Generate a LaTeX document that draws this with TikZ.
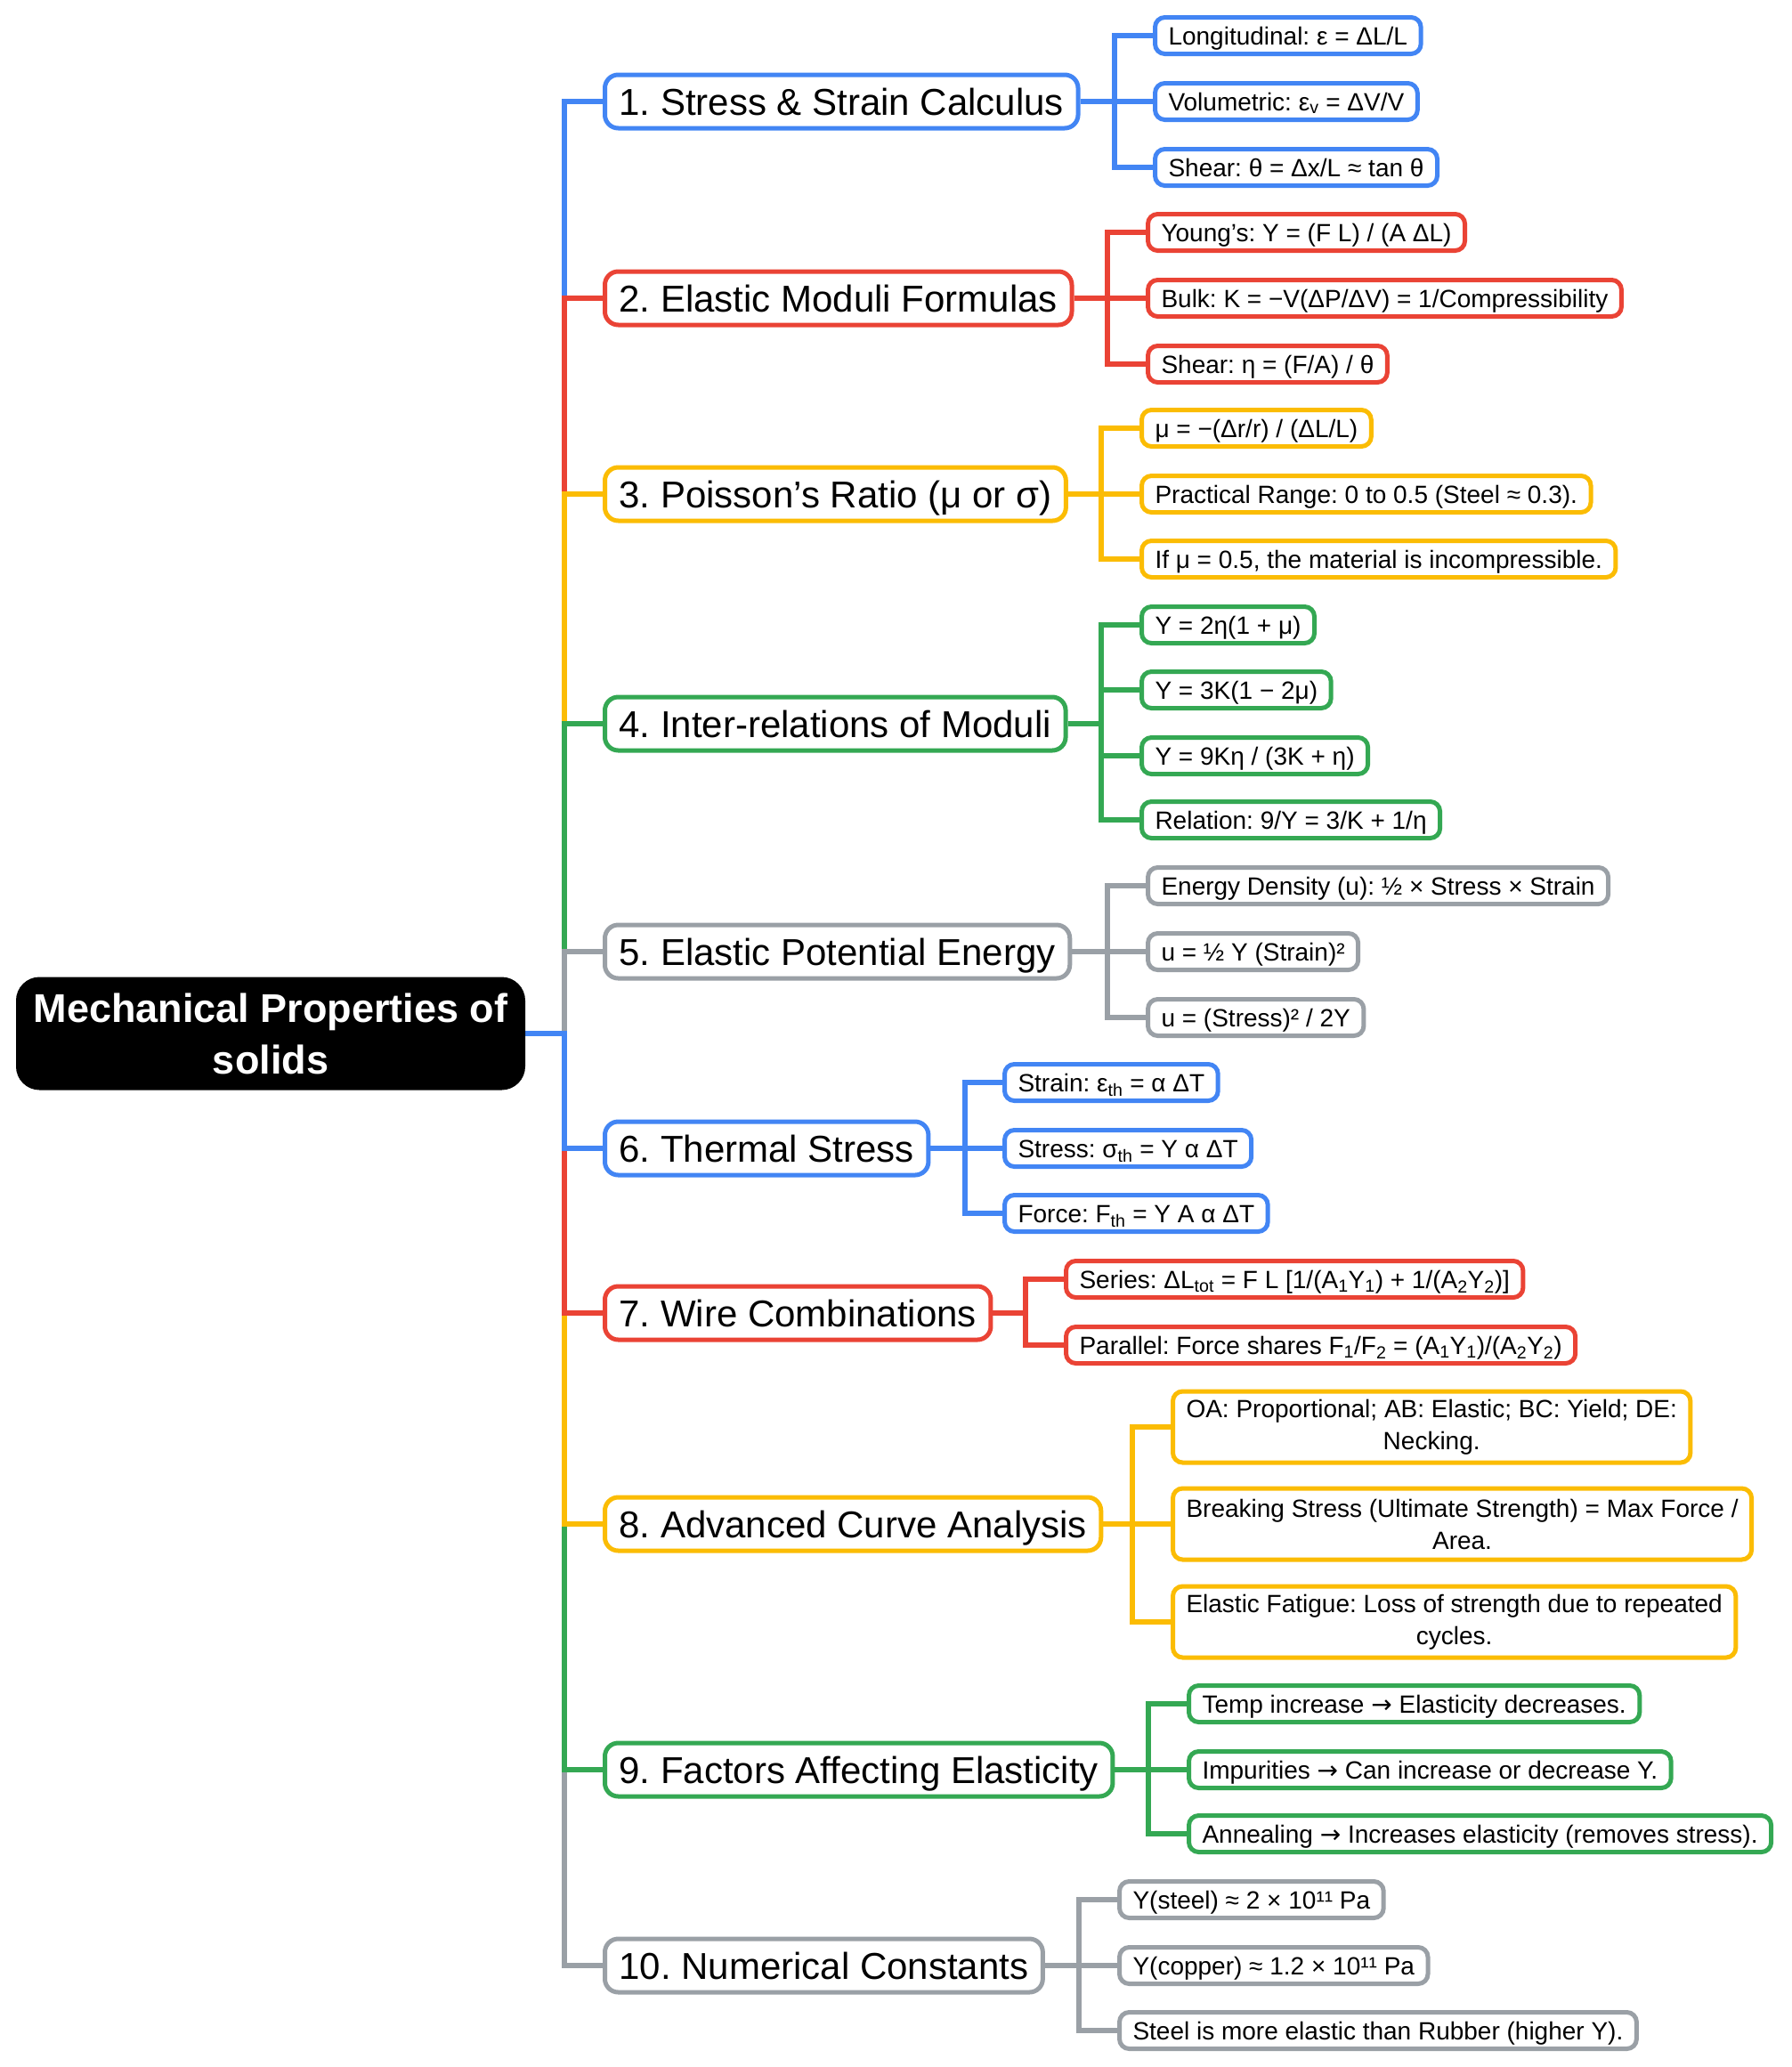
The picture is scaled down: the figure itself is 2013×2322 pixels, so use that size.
\documentclass[tikz,border=0pt]{standalone}
\usepackage{fontspec}
\setmainfont{Liberation Sans}
\newfontfamily\arrowfont{DejaVu Sans}
\newcommand{\rarr}{{\arrowfont →}}
\frenchspacing
\definecolor{cblue}{HTML}{4285F4}
\definecolor{cred}{HTML}{EA4335}
\definecolor{cyellow}{HTML}{FBBC04}
\definecolor{cgreen}{HTML}{34A853}
\definecolor{cgray}{HTML}{9AA0A6}
\pgfdeclarelayer{bg}
\pgfsetlayers{bg,main}
\tikzset{
  box/.style={draw=#1, fill=white, line width=5pt, text=black},
  branch/.style={box=#1, anchor=west, rounded corners=15pt, font=\fontsize{42}{50}\selectfont\frenchspacing,
    inner xsep=16pt, inner ysep=0pt, minimum height=60pt, text height=30pt, text depth=0pt},
  leaf/.style={box=#1, anchor=west, rounded corners=11pt, font=\fontsize{28}{36}\selectfont\frenchspacing,
    inner xsep=15pt, inner ysep=0pt, minimum height=41pt, text height=20pt, text depth=0pt},
  leaftwo/.style={box=#1, anchor=west, rounded corners=11pt, font=\fontsize{28}{36}\selectfont\frenchspacing,
    align=center, inner xsep=15pt, inner ysep=0pt, minimum height=80pt},
  link/.style={line width=6pt, draw=#1},
}
\begin{document}
\begin{tikzpicture}[x=1pt, y=-1pt]
\useasboundingbox (0,0) rectangle (2013,2322);

% root
\node[draw=black, fill=black, line width=5pt, rounded corners=24pt, text=white,
  font=\bfseries\fontsize{45}{58}\selectfont, align=center, inner sep=0pt,
  minimum width=567pt, minimum height=122pt] (root) at (304,1161) {Mechanical Properties of\\solids};

% branches
\node[branch=cblue]   (b1)  at (677,114)  {1. Stress \& Strain Calculus};
\node[branch=cred]    (b2)  at (677,335)  {2. Elastic Moduli Formulas};
\node[branch=cyellow] (b3)  at (677,555)  {3. Poisson’s Ratio (μ or σ)};
\node[branch=cgreen]  (b4)  at (677,813)  {4. Inter-relations of Moduli};
\node[branch=cgray]   (b5)  at (677,1069) {5. Elastic Potential Energy};
\node[branch=cblue]   (b6)  at (677,1290) {6. Thermal Stress};
\node[branch=cred]    (b7)  at (677,1475) {7. Wire Combinations};
\node[branch=cyellow] (b8)  at (677,1712) {8. Advanced Curve Analysis};
\node[branch=cgreen]  (b9)  at (677,1988) {9. Factors Affecting Elasticity};
\node[branch=cgray]   (b10) at (677,2208) {10. Numerical Constants};

% leaves 1
\node[leaf=cblue] (l1a) at (1295,40)  {Longitudinal: ε = ΔL/L};
\node[leaf=cblue] (l1b) at (1295,114) {Volumetric: ε\textsubscript{v} = ΔV/V};
\node[leaf=cblue] (l1c) at (1295,188) {Shear: θ = Δx/L ≈ tan θ};
% leaves 2
\node[leaf=cred] (l2a) at (1287,261) {Young’s: Y = (F L) / (A ΔL)};
\node[leaf=cred] (l2b) at (1287,335) {Bulk: K = −V(ΔP/ΔV) = 1/Compressibility};
\node[leaf=cred] (l2c) at (1287,409) {Shear: η = (F/A) / θ};
% leaves 3
\node[leaf=cyellow] (l3a) at (1280,481) {μ = −(Δr/r) / (ΔL/L)};
\node[leaf=cyellow] (l3b) at (1280,555) {Practical Range: 0 to 0.5 (Steel ≈ 0.3).};
\node[leaf=cyellow] (l3c) at (1280,628) {If μ = 0.5, the material is incompressible.};
% leaves 4
\node[leaf=cgreen] (l4a) at (1280,702) {Y = 2η(1 + μ)};
\node[leaf=cgreen] (l4b) at (1280,775) {Y = 3K(1 − 2μ)};
\node[leaf=cgreen] (l4c) at (1280,849) {Y = 9Kη / (3K + η)};
\node[leaf=cgreen] (l4d) at (1280,921) {Relation: 9/Y = 3/K + 1/η};
% leaves 5
\node[leaf=cgray] (l5a) at (1287,995)  {Energy Density (u): ½ × Stress × Strain};
\node[leaf=cgray] (l5b) at (1287,1069) {u = ½ Y (Strain)²};
\node[leaf=cgray] (l5c) at (1287,1143) {u = (Stress)² / 2Y};
% leaves 6
\node[leaf=cblue] (l6a) at (1126,1216) {Strain: ε\textsubscript{th} = α ΔT};
\node[leaf=cblue] (l6b) at (1126,1290) {Stress: σ\textsubscript{th} = Y α ΔT};
\node[leaf=cblue] (l6c) at (1126,1363) {Force: F\textsubscript{th} = Y A α ΔT};
% leaves 7
\node[leaf=cred] (l7a) at (1195,1437) {Series: ΔL\textsubscript{tot} = F L [1/(A\textsubscript{1}Y\textsubscript{1}) + 1/(A\textsubscript{2}Y\textsubscript{2})]};
\node[leaf=cred] (l7b) at (1195,1511) {Parallel: Force shares F\textsubscript{1}/F\textsubscript{2} = (A\textsubscript{1}Y\textsubscript{1})/(A\textsubscript{2}Y\textsubscript{2})};
% leaves 8
\node[leaftwo=cyellow] (l8a) at (1315,1603) {OA: Proportional; AB: Elastic; BC: Yield; DE:\\Necking.};
\node[leaftwo=cyellow] (l8b) at (1315,1712) {Breaking Stress (Ultimate Strength) = Max Force /\\Area.};
\node[leaftwo=cyellow] (l8c) at (1315,1822) {Elastic Fatigue: Loss of strength due to repeated\\cycles.};
% leaves 9
\node[leaf=cgreen] (l9a) at (1333,1914) {Temp increase \rarr{} Elasticity decreases.};
\node[leaf=cgreen] (l9b) at (1333,1988) {Impurities \rarr{} Can increase or decrease Y.};
\node[leaf=cgreen] (l9c) at (1333,2060) {Annealing \rarr{} Increases elasticity (removes stress).};
% leaves 10
\node[leaf=cgray] (l10a) at (1255,2134) {Y(steel) ≈ 2 × 10¹¹ Pa};
\node[leaf=cgray] (l10b) at (1255,2208) {Y(copper) ≈ 1.2 × 10¹¹ Pa};
\node[leaf=cgray] (l10c) at (1255,2281) {Steel is more elastic than Rubber (higher Y).};

% junctions
\coordinate (t)   at (634,1161);
\coordinate (j1)  at (1252,114);
\coordinate (j2)  at (1244,335);
\coordinate (j3)  at (1237,555);
\coordinate (j4)  at (1237,813);
\coordinate (j5)  at (1244,1069);
\coordinate (j6)  at (1084,1290);
\coordinate (j7)  at (1152,1475);
\coordinate (j8)  at (1272,1712);
\coordinate (j9)  at (1290,1988);
\coordinate (j10) at (1212,2208);

\begin{pgfonlayer}{bg}
% trunk connectors (nearest branch drawn last)
\draw[link=cblue]   (root.east) -- (t) |- (b1.west);
\draw[link=cred]    (root.east) -- (t) |- (b2.west);
\draw[link=cyellow] (root.east) -- (t) |- (b3.west);
\draw[link=cgreen]  (root.east) -- (t) |- (b4.west);
\draw[link=cgray]   (root.east) -- (t) |- (b5.west);
\draw[link=cgray]   (root.east) -- (t) |- (b10.west);
\draw[link=cgreen]  (root.east) -- (t) |- (b9.west);
\draw[link=cyellow] (root.east) -- (t) |- (b8.west);
\draw[link=cred]    (root.east) -- (t) |- (b7.west);
\draw[link=cblue]   (root.east) -- (t) |- (b6.west);
% branch to leaves
\foreach \l in {l1a,l1b,l1c} \draw[link=cblue] (b1.east) -- (j1) |- (\l.west);
\foreach \l in {l2a,l2b,l2c} \draw[link=cred] (b2.east) -- (j2) |- (\l.west);
\foreach \l in {l3a,l3b,l3c} \draw[link=cyellow] (b3.east) -- (j3) |- (\l.west);
\foreach \l in {l4a,l4b,l4c,l4d} \draw[link=cgreen] (b4.east) -- (j4) |- (\l.west);
\foreach \l in {l5a,l5b,l5c} \draw[link=cgray] (b5.east) -- (j5) |- (\l.west);
\foreach \l in {l6a,l6b,l6c} \draw[link=cblue] (b6.east) -- (j6) |- (\l.west);
\foreach \l in {l7a,l7b} \draw[link=cred] (b7.east) -- (j7) |- (\l.west);
\foreach \l in {l8a,l8b,l8c} \draw[link=cyellow] (b8.east) -- (j8) |- (\l.west);
\foreach \l in {l9a,l9b,l9c} \draw[link=cgreen] (b9.east) -- (j9) |- (\l.west);
\foreach \l in {l10a,l10b,l10c} \draw[link=cgray] (b10.east) -- (j10) |- (\l.west);
\end{pgfonlayer}
\end{tikzpicture}
\end{document}
